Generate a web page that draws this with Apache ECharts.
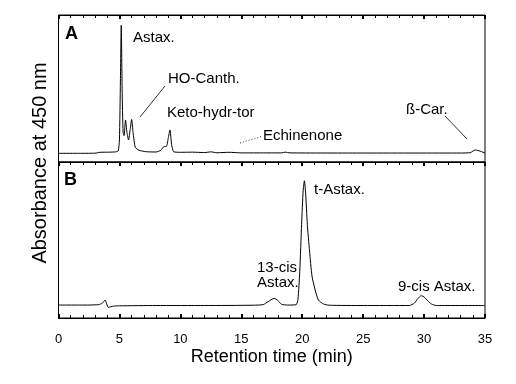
<!DOCTYPE html>
<html>
<head>
<meta charset="utf-8">
<script src="https://cdn.jsdelivr.net/npm/echarts@6/dist/echarts.min.js"></script>
<style>
  html, body { margin: 0; padding: 0; background: #fff; }
  #chart { width: 516px; height: 384px; }
</style>
</head>
<body>
<div id="chart"></div>
<script>
// x tick labels (retention time, min)
var timeTicks = [0, 5, 10, 15, 20, 25, 30, 35];

// panel A chromatogram: [time (min), absorbance (rel. units)]
var traceA = [
  [0, 5.9], [1.5, 5.9], [3.0, 6.0], [3.4, 6.6], [4.2, 6.7], [4.7, 6.9],
  [4.9, 7.5], [5.0, 15], [5.08, 55], [5.15, 93], [5.22, 50], [5.3, 20],
  [5.38, 18], [5.5, 28.6], [5.62, 20], [5.75, 15], [5.88, 22], [6.0, 29],
  [6.12, 20], [6.3, 10], [6.6, 8], [7.2, 7], [8.0, 6.8], [8.4, 8],
  [8.65, 10.5], [8.85, 10.5], [9.0, 16], [9.15, 21.8], [9.28, 12], [9.45, 7],
  [10.0, 6.6], [11.0, 6.7], [12.0, 6.4], [12.5, 6.9], [13.0, 6.3], [14.0, 6.6],
  [15.0, 6.2], [17.0, 6.2], [18.3, 6.2], [18.6, 6.7], [19.0, 6.2], [25.0, 6.1],
  [33.0, 6.1], [33.8, 6.4], [34.2, 8.2], [34.6, 7.4], [35.0, 6.1]
];

// panel B chromatogram: [time (min), absorbance (rel. units)]
var traceB = [
  [0, 8.3], [2.5, 8.3], [3.3, 8.6], [3.6, 9.5], [3.82, 11.5], [4.09, 6.8],
  [4.5, 7.6], [5.0, 7.8], [8.0, 8.0], [12.0, 8.0], [16.0, 8.2], [16.8, 8.6],
  [17.2, 10.5], [17.7, 12.6], [18.0, 11.2], [18.3, 8.8], [18.8, 8.3], [19.5, 8.5],
  [19.65, 12], [19.8, 30], [19.95, 60], [20.08, 82], [20.18, 88], [20.28, 80],
  [20.42, 60], [20.6, 43], [20.8, 27], [21.06, 18], [21.33, 11.5], [21.74, 9],
  [22.2, 8.2], [25.0, 8.0], [28.8, 8.0], [29.2, 9.5], [29.5, 12.5], [29.76, 14.3],
  [30.0, 13.5], [30.3, 11], [30.6, 9], [31.0, 8.0], [35.0, 8.0]
];

var chart = echarts.init(document.getElementById('chart'), null, { renderer: 'canvas' });

var font = 'Liberation Sans, Arial, sans-serif';

// shared x axis look: ticks inside, minor ticks every 1 min
function timeAxis(grid, pos, labels) {
  return {
    type: 'value',
    gridIndex: grid,
    position: pos,
    min: 0,
    max: 35,
    interval: 5,
    axisLine: { show: true, onZero: false, lineStyle: { color: '#000', width: 1 } },
    axisTick: { show: true, inside: true, length: 4, lineStyle: { color: '#000', width: 2 } },
    minorTick: { show: true, splitNumber: 5, length: 3, lineStyle: { color: '#000', width: 1 } },
    splitLine: { show: false },
    axisLabel: {
      show: labels,
      margin: 15,
      color: '#000',
      fontSize: 13,
      fontFamily: font,
      formatter: function (v) { return timeTicks.indexOf(v) >= 0 ? String(v) : ''; }
    },
    name: labels ? 'Retention time (min)' : '',
    nameLocation: 'middle',
    nameGap: 30,
    nameTextStyle: { color: '#000', fontSize: 18, fontFamily: font }
  };
}

function absAxis(grid) {
  return {
    type: 'value', gridIndex: grid, min: 0, max: 100,
    axisLine: { show: false }, axisTick: { show: false },
    axisLabel: { show: false }, splitLine: { show: false }
  };
}

function txt(x, y, s, size, bold) {
  return {
    type: 'text', x: x, y: y,
    style: {
      text: s, fill: '#000', font: (bold ? 'bold ' : '') + size + 'px ' + font,
      textVerticalAlign: 'middle'
    }
  };
}

function seg(x1, y1, x2, y2, dash) {
  return {
    type: 'line',
    shape: { x1: x1, y1: y1, x2: x2, y2: y2 },
    style: { stroke: '#000', lineWidth: 0.8, lineDash: dash || null }
  };
}

var option = {
  animation: false,
  backgroundColor: '#fff',
  grid: [
    { left: 58.5, right: 31, top: 15, height: 147, show: true, borderColor: '#000', borderWidth: 1 },
    { left: 58.5, right: 31, top: 162, height: 156, show: true, borderColor: '#000', borderWidth: 1 }
  ],
  xAxis: [
    timeAxis(0, 'top', false),
    timeAxis(1, 'top', false),
    timeAxis(1, 'bottom', true)
  ],
  yAxis: [absAxis(0), absAxis(1)],
  series: [
    {
      type: 'line', xAxisIndex: 0, yAxisIndex: 0, data: traceA,
      showSymbol: false, smooth: 0.2,
      lineStyle: { color: '#000', width: 1 }
    },
    {
      type: 'line', xAxisIndex: 2, yAxisIndex: 1, data: traceB,
      showSymbol: false, smooth: 0.2,
      lineStyle: { color: '#000', width: 1 }
    }
  ],
  graphic: [
    {
      type: 'text', x: 40, y: 163, rotation: Math.PI / 2,
      style: {
        text: 'Absorbance at 450 nm', fill: '#000', font: '20px ' + font,
        textAlign: 'center', textVerticalAlign: 'middle'
      }
    },
    txt(65, 34, 'A', 18, true),
    txt(133, 38, 'Astax.', 15),
    txt(168, 79, 'HO-Canth.', 15),
    seg(140, 117, 165, 86),
    txt(167, 113, 'Keto-hydr-tor', 15),
    txt(263, 136, 'Echinenone', 15),
    seg(240, 143, 263, 136, [1, 2]),
    txt(406, 110, 'ß-Car.', 15),
    seg(445, 116, 467, 139),
    txt(64, 180, 'B', 18, true),
    txt(314, 190, 't-Astax.', 15),
    txt(257, 268, '13-cis', 15),
    txt(257, 283, 'Astax.', 15),
    txt(398, 287, '9-cis Astax.', 15)
  ]
};

chart.setOption(option);
</script>
</body>
</html>
